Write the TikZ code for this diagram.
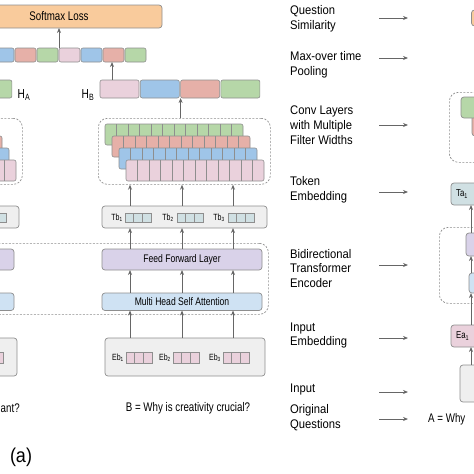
\documentclass[tikz,border=0pt]{standalone}
\usepackage{fontspec}
\setmainfont{Liberation Sans}
\newfontfamily\narrowfont{Liberation Sans}[FakeStretch=0.78]
\newfontfamily\labelfont{Liberation Sans}[FakeStretch=0.9]
\usetikzlibrary{arrows.meta}

\definecolor{edgegray}{HTML}{8E8E8E}
\definecolor{arrowgray}{HTML}{666666}
\definecolor{softorange}{HTML}{F9CB9C}
\definecolor{cellgreen}{HTML}{B6D7A8}
\definecolor{cellred}{HTML}{E6B0A8}
\definecolor{cellblue}{HTML}{9FC5E8}
\definecolor{cellpink}{HTML}{EAD1DC}
\definecolor{ffpurple}{HTML}{D9D2E9}
\definecolor{attblue}{HTML}{CFE2F3}
\definecolor{embgray}{HTML}{EFEFEF}
\definecolor{tokteal}{HTML}{D0E0E3}

\tikzset{
    box/.style={draw=edgegray, line width=0.7pt, rounded corners=3pt, inner sep=0pt, outer sep=0pt, anchor=north west},
    vcell/.style={draw=edgegray, line width=0.6pt, rounded corners=2pt, inner sep=0pt, outer sep=0pt},
    sqcell/.style={draw=edgegray, line width=0.5pt},
    arr/.style={draw=arrowgray, line width=0.8pt, -{Stealth[length=5pt,width=4pt]}},
    dashbox/.style={draw=edgegray, line width=0.7pt, dash pattern=on 2pt off 1.5pt, rounded corners=9pt, inner sep=0pt, anchor=north west},
    legend/.style={anchor=west, align=left, inner sep=0pt, font=\labelfont\fontsize{12.5}{14.8}\selectfont},
    boxtext/.style={font=\narrowfont\fontsize{11}{13}\selectfont},
    small/.style={inner sep=0pt, font=\narrowfont\fontsize{9}{10}\selectfont},
    question/.style={inner sep=0pt, font=\narrowfont\fontsize{12.5}{14}\selectfont}
}

% stack of conv filter rows, #1 = left x of the back row
\newcommand{\convstack}[1]{%
    \foreach \c [count=\k from 0] in {cellgreen,cellred,cellblue,cellpink}{%
        \draw[vcell, fill=\c] ({#1+7*\k},{124+12*\k}) rectangle ++(138,21);
        \foreach \j in {1,...,11}
            \draw[edgegray, line width=0.5pt] ({#1+7*\k+11.5*\j},{124+12*\k}) -- ++(0,21);
    }}

\begin{document}
\begin{tikzpicture}[x=1pt, y=-1pt]
    \useasboundingbox (0,0) rectangle (474,474);
    \clip (0,0) rectangle (474,474);

    % arrow columns
    \coordinate (c1) at (130,0);
    \coordinate (c2) at (182,0);
    \coordinate (c3) at (233,0);

    % softmax and concatenated vector
    \node[box, fill=softorange, minimum width=206pt, minimum height=23pt, font=\narrowfont\fontsize{12.5}{14}\selectfont] (soft) at (-44,5) {Softmax Loss};
    \foreach \c [count=\i from 0] in {cellpink,cellblue,cellred,cellgreen,cellpink,cellblue,cellred,cellgreen}
        \node[vcell, fill=\c, anchor=north west, minimum width=21pt, minimum height=14pt] (cat\i) at ({-29+22*\i},48) {};
    \draw[arr] (cat4.north west) -- (soft.south -| cat4.north west);

    % sentence A (mostly outside the frame)
    \begin{scope}[xshift=-248pt]
        \foreach \c [count=\i from 0] in {cellpink,cellblue,cellred,cellgreen}
            \node[vcell, fill=\c, anchor=north west, minimum width=39pt, minimum height=18pt] (ha\i) at ({100+40.3*\i},80) {};
        \node[dashbox, minimum width=172pt, minimum height=66pt] (convA) at (98,118) {};
        \convstack{105}
        \node[box, fill=embgray, minimum width=165pt, minimum height=22pt] (tokA) at (102,206) {};
        \foreach \j in {0,1,2}
            \draw[sqcell, fill=tokteal] ({228+8.6*\j},213) rectangle ++(8.6,9.5);
        \node[box, fill=ffpurple, minimum width=160pt, minimum height=21pt] (ffA) at (102,249) {};
        \node[box, fill=attblue, minimum width=160pt, minimum height=17.5pt] (mhA) at (102,293) {};
        \node[box, fill=embgray, minimum width=160pt, minimum height=38pt] (inA) at (105,338) {};
        \foreach \j in {0,1,2}
            \draw[sqcell, fill=cellpink] ({225+8.6*\j},352) rectangle ++(8.6,11);
    \end{scope}
    \node[inner sep=0pt, font=\narrowfont\fontsize{13}{15}\selectfont] (hal) at (24,95) {H\textsubscript{A}};
    \node[question, anchor=west] (qA) at (0.5,408) {ant?};

    % sentence B
    \foreach \c [count=\i from 0] in {cellpink,cellblue,cellred,cellgreen}
        \node[vcell, fill=\c, anchor=north west, minimum width=39pt, minimum height=18pt] (hb\i) at ({100+40.3*\i},80) {};
    \node[inner sep=0pt, font=\narrowfont\fontsize{13}{15}\selectfont] (hbl) at (88,95) {H\textsubscript{B}};
    \coordinate (hbtip) at ([xshift=12pt]hb0.north west);
    \draw[arr] (hbtip) -- (hbtip |- cat5.south);

    \node[dashbox, minimum width=172pt, minimum height=66pt] (convB) at (98,118) {};
    \convstack{105}
    \draw[arr] (hb2.south west |- convB.north) -- (hb2.south west);

    \node[box, fill=embgray, minimum width=165pt, minimum height=22pt] (tokB) at (102,206) {};
    \foreach \i/\x/\cx in {1/117/125, 2/168/177, 3/219/228}{
        \node[small] (tb\i) at (\x,217.5) {Tb\textsubscript{\i}};
        \foreach \j in {0,1,2}
            \draw[sqcell, fill=tokteal] ({\cx+8.6*\j},213) rectangle ++(8.6,9.5);
    }
    \foreach \n in {c1,c2,c3}
        \draw[arr] (\n |- tokB.north) -- (\n |- convB.south);

    \node[dashbox, minimum width=568pt, minimum height=71pt] (encB) at (-300,243) {};
    \node[box, boxtext, fill=ffpurple, minimum width=160pt, minimum height=21pt] (ffB) at (102,249) {Feed Forward Layer};
    \node[box, boxtext, fill=attblue, minimum width=160pt, minimum height=17.5pt] (mhB) at (102,293) {Multi Head Self Attention};
    \foreach \n in {c1,c2,c3}{
        \draw[arr] (\n |- ffB.north) -- (\n |- tokB.south);
        \draw[arr] (\n |- mhB.north) -- (\n |- ffB.south);
    }

    \node[box, fill=embgray, minimum width=160pt, minimum height=38pt] (inB) at (105,338) {};
    \foreach \i/\x/\cx in {1/118/126, 2/165/173, 3/215/223}{
        \node[small] (eb\i) at (\x,358) {Eb\textsubscript{\i}};
        \foreach \j in {0,1,2}
            \draw[sqcell, fill=cellpink] ({\cx+8.6*\j},352) rectangle ++(8.6,11);
    }
    \foreach \n in {c1,c2,c3}
        \draw[arr] (\n |- inB.north) -- (\n |- mhB.south);

    \node[question] (qB) at (188,408) {B = Why is creativity crucial?};
    \node[inner sep=0pt, font=\labelfont\fontsize{20}{24}\selectfont] (cap) at (21,457) {(a)};

    % legend
    \node[legend] (lsim) at (290,18.5) {Question\\Similarity};
    \node[legend] (lpool) at (290,65) {Max-over time\\Pooling};
    \node[legend] (lconv) at (290,125) {Conv Layers\\with Multiple\\Filter Widths};
    \node[legend] (ltok) at (290,189.5) {Token\\Embedding};
    \node[legend] (lenc) at (290,268.5) {Bidirectional\\Transformer\\Encoder};
    \node[legend] (lemb) at (290,335.5) {Input\\Embedding};
    \node[legend] (linp) at (290,389) {Input};
    \node[legend] (lorig) at (290,417.5) {Original\\Questions};
    \foreach \y [count=\i] in {18,58,125,192,265,338,392,419}{
        \coordinate (s\i) at (379,\y);
        \coordinate (e\i) at (408,\y);
        \draw[arr] (s\i) -- (e\i);
    }

    % second model (cut by the frame)
    \node[box, fill=softorange, minimum width=40pt, minimum height=16pt] (simb) at (471.5,10) {};
    \node[dashbox, minimum width=60pt, minimum height=70pt] (convb) at (449,92) {};
    \node[box, fill=cellred, minimum width=40pt, minimum height=22pt] (redb) at (472,114) {};
    \node[box, fill=cellgreen, minimum width=60pt, minimum height=21pt] (greenb) at (461,97) {};
    \node[box, fill=tokteal, minimum width=40pt, minimum height=22pt] (tokb) at (451,183) {};
    \node[small, anchor=west, font=\narrowfont\fontsize{10}{11}\selectfont] (tal) at (456,194) {Ta\textsubscript{1}};
    \node[dashbox, minimum width=60pt, minimum height=76pt] (encb) at (439,227) {};
    \node[box, fill=ffpurple, minimum width=40pt, minimum height=23pt] (ffb) at (466,233) {};
    \node[box, fill=attblue, minimum width=40pt, minimum height=20pt] (mhb) at (469,273) {};
    \node[box, fill=cellpink, minimum width=40pt, minimum height=22pt] (embb) at (451,325) {};
    \node[small, anchor=west, font=\narrowfont\fontsize{10}{11}\selectfont] (eal) at (456,336) {Ea\textsubscript{1}};
    \node[box, fill=embgray, minimum width=40pt, minimum height=37pt] (inb) at (460,365) {};
    \coordinate (b1) at (471,0);
    \draw[arr] (b1 |- ffb.north) -- (b1 |- tokb.south);
    \draw[arr] (b1 |- mhb.north) -- (b1 |- ffb.south);
    \draw[arr] (b1 |- embb.north) -- (b1 |- mhb.south);
    \draw[arr] (b1 |- inb.north) -- (b1 |- embb.south);
    \node[question, anchor=west] (qAb) at (428,419) {A = Why};
\end{tikzpicture}
\end{document}
